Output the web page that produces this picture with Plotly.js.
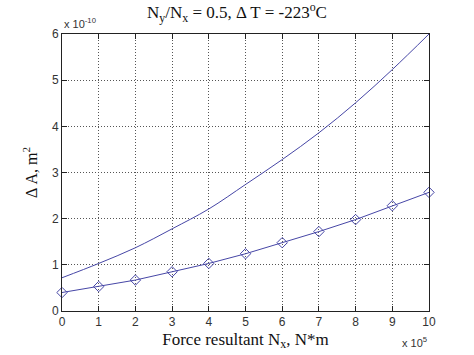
<!DOCTYPE html>
<html>
<head>
<meta charset="utf-8">
<script src="https://cdn.plot.ly/plotly-3.0.1.min.js"></script>
<style>html,body{margin:0;padding:0;background:#fff;}#chart{width:474px;height:355px;}</style>
</head>
<body>
<div id="chart"></div>
<script>
// Force resultant Nx (x 10^5 N*m)
var forceNx = [0, 1, 2, 3, 4, 5, 6, 7, 8, 9, 10];
// Upper curve, Delta A (x 10^-10 m^2)
var deltaAUpper = [0.72, 1.03, 1.37, 1.78, 2.21, 2.74, 3.28, 3.86, 4.51, 5.23, 6.0];
// Lower curve with diamond markers, Delta A (x 10^-10 m^2)
var deltaALower = [0.40, 0.53, 0.67, 0.85, 1.03, 1.24, 1.48, 1.72, 1.98, 2.28, 2.57];
var xTicks = [0, 1, 2, 3, 4, 5, 6, 7, 8, 9, 10];
var yTicks = [0, 1, 2, 3, 4, 5, 6];

var lineColor = '#4646a6';
var traces = [
  {x: forceNx, y: deltaAUpper, mode: 'lines', type: 'scatter',
   line: {color: lineColor, width: 1, shape: 'spline', smoothing: 1}, hoverinfo: 'skip'},
  {x: forceNx, y: deltaALower, mode: 'lines+markers', type: 'scatter',
   line: {color: lineColor, width: 1},
   marker: {symbol: 'diamond-open', size: 8, color: lineColor, line: {width: 1, color: lineColor}},
   hoverinfo: 'skip', cliponaxis: false}
];

var axisCommon = {
  showline: true, linecolor: '#222', linewidth: 1, mirror: 'ticks',
  ticks: 'inside', ticklen: 5, tickcolor: '#222',
  showgrid: true, gridcolor: '#555', griddash: '1px,2px', gridwidth: 1,
  zeroline: false,
  tickfont: {family: 'Liberation Sans, Arial, sans-serif', size: 12, color: '#333'}
};

var layout = {
  width: 474, height: 355,
  margin: {l: 62, r: 45, t: 34, b: 44},
  paper_bgcolor: '#fff', plot_bgcolor: '#fff',
  showlegend: false,
  title: {text: 'N<sub>y</sub>/N<sub>x</sub> = 0.5, Δ T = -223<sup>o</sup>C',
          font: {family: 'Liberation Serif, Times New Roman, serif', size: 17, color: '#111'},
          x: 0.5, xanchor: 'center', y: 0.965, yanchor: 'middle'},
  xaxis: Object.assign({}, axisCommon, {
    range: [0, 10], tickvals: xTicks, ticktext: xTicks.map(String),
    title: {text: 'Force resultant N<sub>x</sub>, N*m', standoff: 4,
            font: {family: 'Liberation Serif, Times New Roman, serif', size: 17, color: '#111'}}
  }),
  yaxis: Object.assign({}, axisCommon, {
    range: [0, 6], tickvals: yTicks, ticktext: yTicks.map(String),
    title: {text: 'Δ A, m<sup>2</sup>', standoff: 10,
            font: {family: 'Liberation Serif, Times New Roman, serif', size: 16, color: '#111'}}
  }),
  annotations: [
    {text: 'x 10<sup>-10</sup>', xref: 'paper', yref: 'paper', x: 0, y: 1, xanchor: 'left', yanchor: 'bottom',
     yshift: 2, showarrow: false, font: {family: 'Liberation Sans, Arial, sans-serif', size: 11, color: '#333'}},
    {text: 'x 10<sup>5</sup>', xref: 'paper', yref: 'paper', x: 1, y: 0, xanchor: 'right', yanchor: 'top',
     yshift: -22, showarrow: false, font: {family: 'Liberation Sans, Arial, sans-serif', size: 11, color: '#333'}}
  ]
};

Plotly.newPlot('chart', traces, layout, {staticPlot: true, displayModeBar: false});
</script>
</body>
</html>
